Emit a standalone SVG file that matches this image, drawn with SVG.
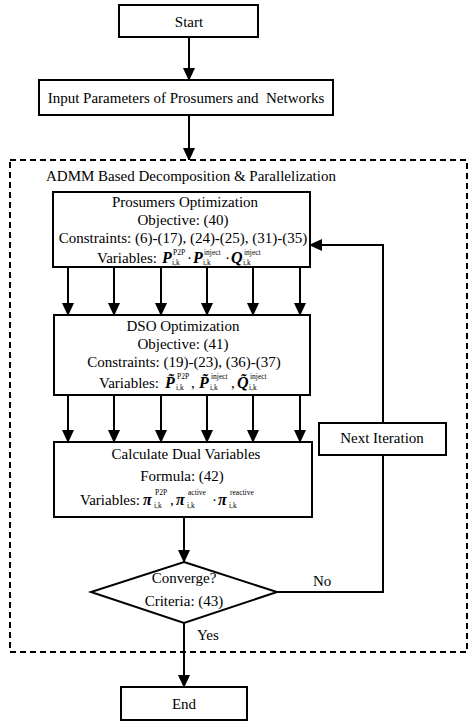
<svg xmlns="http://www.w3.org/2000/svg" width="474" height="725" viewBox="0 0 474 725" font-family="'Liberation Serif', 'Times New Roman', serif">
<defs>
<marker id="ah" markerUnits="userSpaceOnUse" markerWidth="12" markerHeight="14" viewBox="0 0 12 14" refX="12" refY="6" orient="auto">
<path d="M0,0 L13,6 L0,12 Z" fill="#000"/>
</marker>
<style>
text{font-family:"Liberation Serif","Times New Roman",serif;font-size:15px;fill:#000}
.c{text-anchor:middle}
.box{fill:#fff;stroke:#000;stroke-width:2}
.ln{fill:none;stroke:#000;stroke-width:2}
.arr{fill:none;stroke:#000;stroke-width:2;marker-end:url(#ah)}
.dash{fill:none;stroke:#000;stroke-width:2;stroke-dasharray:6 4}
.v{font-weight:bold;font-style:italic;font-size:16px}
.s{font-size:7.5px}
</style>
</defs>
<rect id="container" class="dash" x="10" y="160" width="457" height="492"/>
<text x="46" y="181">ADMM Based Decomposition &amp; Parallelization</text>

<g id="connectors">
<line class="arr" x1="189" y1="37" x2="189" y2="80"/>
<line class="arr" x1="189" y1="115" x2="189" y2="160"/>
<line class="arr" x1="68" y1="267" x2="68" y2="315"/>
<line class="arr" x1="114" y1="267" x2="114" y2="315"/>
<line class="arr" x1="161" y1="267" x2="161" y2="315"/>
<line class="arr" x1="207" y1="267" x2="207" y2="315"/>
<line class="arr" x1="253" y1="267" x2="253" y2="315"/>
<line class="arr" x1="300" y1="267" x2="300" y2="315"/>
<line class="arr" x1="68" y1="395" x2="68" y2="442"/>
<line class="arr" x1="114" y1="395" x2="114" y2="442"/>
<line class="arr" x1="161" y1="395" x2="161" y2="442"/>
<line class="arr" x1="207" y1="395" x2="207" y2="442"/>
<line class="arr" x1="253" y1="395" x2="253" y2="442"/>
<line class="arr" x1="300" y1="395" x2="300" y2="442"/>
<line class="arr" x1="184" y1="517" x2="184" y2="562"/>
<polyline class="ln" points="277,592 383,592 383,455"/>
<polyline class="arr" points="383,423 383,245 310,245"/>
<line class="arr" x1="184" y1="623" x2="184" y2="687"/>
<text x="313" y="586">No</text>
<text x="197" y="640">Yes</text>
</g>

<g id="start">
<rect class="box" x="119" y="5" width="139" height="32"/>
<text class="c" x="189" y="27">Start</text>
</g>

<g id="input">
<rect class="box" x="39" y="80" width="294" height="35"/>
<text class="c" x="186" y="103" style="white-space:pre">Input Parameters of Prosumers and  Networks</text>
</g>

<g id="prosumers">
<rect class="box" x="53" y="192" width="257" height="75"/>
<text class="c" x="185" y="207">Prosumers Optimization</text>
<text class="c" x="183" y="225">Objective: (40)</text>
<text class="c" x="183" y="243">Constraints: (6)-(17), (24)-(25), (31)-(35)</text>
<text x="97" y="263">Variables:</text>
<text class="v" x="162" y="263">P</text>
<text class="s" x="173" y="255">P2P</text>
<text class="s" x="172" y="265">i,k</text>
<text x="187" y="263">·</text>
<text class="v" x="193" y="263">P</text>
<text class="s" x="204" y="255">inject</text>
<text class="s" x="203" y="265">i,k</text>
<text x="225" y="263">·</text>
<text class="v" x="231" y="263">Q</text>
<text class="s" x="244" y="255">inject</text>
<text class="s" x="243" y="265">i,k</text>
</g>

<g id="dso">
<rect class="box" x="54" y="315" width="256" height="80"/>
<text class="c" x="183" y="331">DSO Optimization</text>
<text class="c" x="183" y="349">Objective: (41)</text>
<text class="c" x="184" y="367">Constraints: (19)-(23), (36)-(37)</text>
<text x="99" y="388">Variables:</text>
<text class="v" x="165" y="388">P̃</text>
<text class="s" x="177" y="379">P2P</text>
<text class="s" x="176" y="390">i,k</text>
<text x="191" y="388">,</text>
<text class="v" x="199" y="388">P̃</text>
<text class="s" x="211" y="379">inject</text>
<text class="s" x="210" y="390">i,k</text>
<text x="231" y="388">,</text>
<text class="v" x="237" y="388">Q̃</text>
<text class="s" x="250" y="379">inject</text>
<text class="s" x="249" y="390">i,k</text>
</g>

<g id="dual">
<rect class="box" x="54" y="442" width="258" height="75"/>
<text class="c" x="186" y="459">Calculate Dual Variables</text>
<text class="c" x="182" y="481">Formula: (42)</text>
<text x="80" y="505">Variables:</text>
<text class="v" x="143" y="505">π</text>
<text class="s" x="155" y="495">P2P</text>
<text class="s" x="154" y="508">i,k</text>
<text x="170" y="505">,</text>
<text class="v" x="176" y="505">π</text>
<text class="s" x="188" y="495">active</text>
<text class="s" x="187" y="508">i,k</text>
<text x="212" y="505">·</text>
<text class="v" x="218" y="505">π</text>
<text class="s" x="230" y="495">reactive</text>
<text class="s" x="229" y="508">i,k</text>
</g>

<g id="next">
<rect class="box" x="319" y="423" width="127" height="32"/>
<text class="c" x="382" y="443">Next Iteration</text>
</g>

<g id="converge">
<polygon class="box" points="184,562 277,592 184,623 91,592"/>
<text class="c" x="184" y="583">Converge?</text>
<text class="c" x="184" y="606">Criteria: (43)</text>
</g>

<g id="end">
<rect class="box" x="121" y="687" width="126" height="33"/>
<text class="c" x="184" y="709">End</text>
</g>
</svg>
